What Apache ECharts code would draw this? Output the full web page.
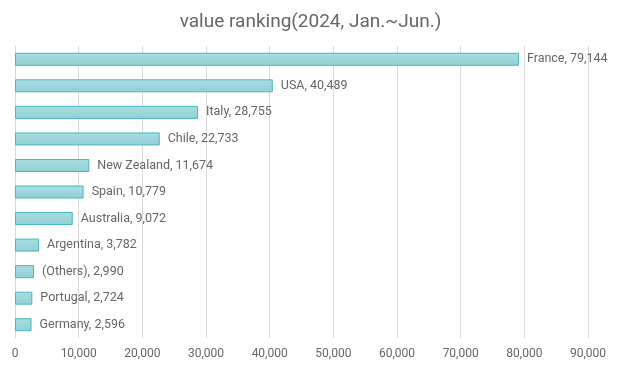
<!DOCTYPE html>
<html><head><meta charset="utf-8">
<script src="https://cdn.jsdelivr.net/npm/echarts@6/dist/echarts.min.js"></script>
<style>html,body{margin:0;padding:0;background:#fff}#c{width:621px;height:365px}</style>
</head><body><div id="c"></div>
<script>
const categories = ["France","USA","Italy","Chile","New Zealand","Spain","Australia","Argentina","(Others)","Portugal","Germany"];
const values = [79144,40489,28755,22733,11674,10779,9072,3782,2990,2724,2596];
const xTicks = {min:0, max:90000, interval:10000};

const chart = echarts.init(document.getElementById('c'));
const fmt = v => v.toLocaleString('en-US');
chart.setOption({
  animation:false,
  title:{text:'value ranking(2024, Jan.~Jun.)', left:'center', top:8,
    textStyle:{color:'#666', fontSize:19, fontWeight:'normal', fontFamily:'Roboto'}},
  grid:{left:15, right:33, top:46, bottom:27},
  xAxis:{type:'value', min:xTicks.min, max:xTicks.max, interval:xTicks.interval,
    axisLine:{show:false}, axisTick:{show:false},
    splitLine:{lineStyle:{color:'#d9d9d9'}},
    axisLabel:{color:'#666', fontSize:12, fontFamily:'Roboto', formatter:v=>fmt(v), margin:10}},
  yAxis:{type:'category', data:categories, inverse:true,
    axisLine:{show:false}, axisTick:{show:false}, axisLabel:{show:false}},
  series:[{type:'bar', data:values, barWidth:13,
    itemStyle:{borderColor:'#45b8c2', borderWidth:1,
      color:new echarts.graphic.LinearGradient(0,0,0,1,[{offset:0,color:'#aadde1'},{offset:1,color:'#90d0d6'}])},
    label:{show:true, position:'right', distance:8, color:'#666', fontSize:12.5, fontFamily:'Roboto',
      formatter:p=>p.name+', '+fmt(p.value)}}]
});
</script></body></html>
